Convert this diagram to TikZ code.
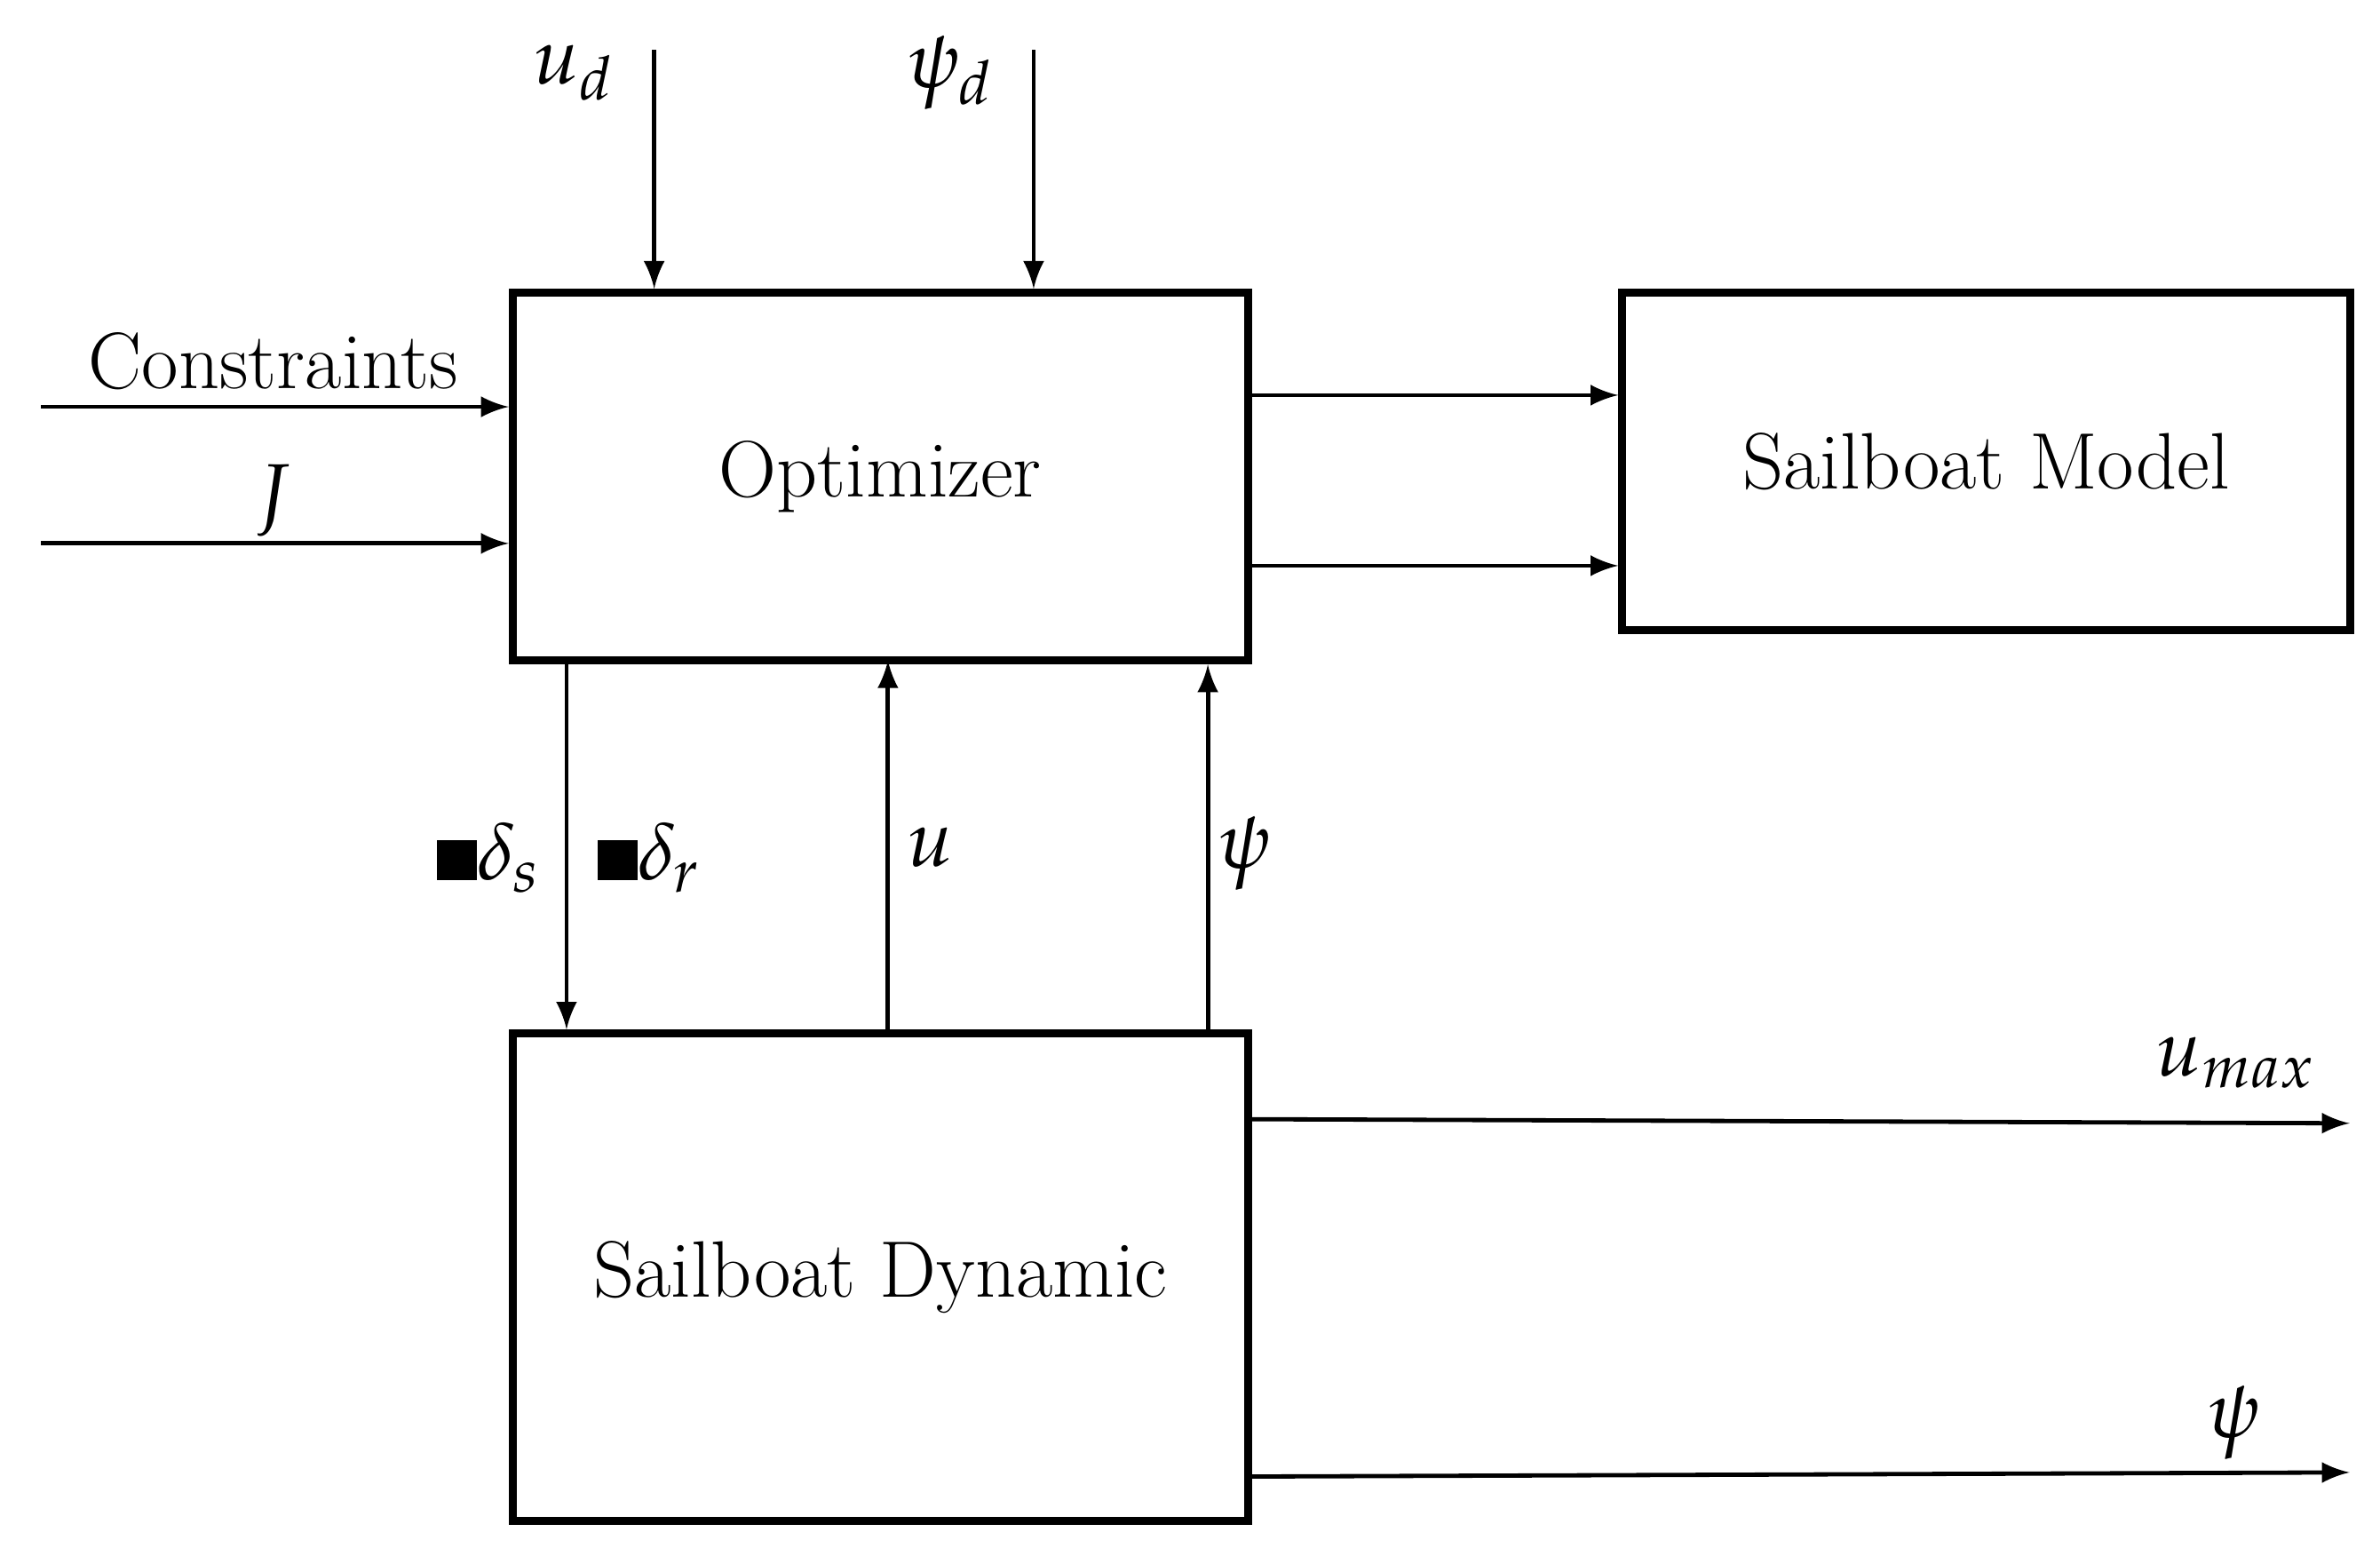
\documentclass[tikz,border=0pt]{standalone}
\usepackage{mathpazo}
\usetikzlibrary{positioning}
\begin{document}
\begin{tikzpicture}[x=0.01cm,y=-0.01cm,
    blk/.style={draw, line width=1.5pt, minimum width=4.84cm, inner sep=0pt},
    sig/.style={->, >=latex, line width=0.8pt},
    lbl/.style={font=\fontsize{15}{18}\selectfont}]
  \useasboundingbox (0,0) rectangle (1568,1025);

  \node[blk, minimum height=2.42cm, lbl] (Opt) at (580,314) {Optimizer};
  \node[blk, minimum width=4.79cm, minimum height=2.22cm, lbl] (Mod) at (1308.5,304) {Sailboat Model};
  \node[blk, minimum height=3.21cm, lbl] (Dyn) at (580,841.5) {Sailboat Dynamic};

  \coordinate (ud) at (431,33);
  \coordinate (pd) at (681,33);
  \coordinate (Cin) at (27,268);
  \coordinate (Jin) at (27,358);
  \coordinate (Uout) at (1548,740);
  \coordinate (Pout) at (1548,970);

  \draw[sig] (ud) -- (ud |- Opt.north);
  \draw[sig] (pd) -- (pd |- Opt.north);
  \draw[sig] (Cin) -- (Cin -| Opt.west);
  \draw[sig] (Jin) -- (Jin -| Opt.west);
  \draw[sig] ([yshift=-0.7cm]Opt.north east) -- ([yshift=-0.7cm]Opt.north east -| Mod.west);
  \draw[sig] ([yshift=0.65cm]Opt.south east) -- ([yshift=0.65cm]Opt.south east -| Mod.west);
  \draw[sig] ([xshift=0.38cm]Opt.south west) -- ([xshift=0.38cm]Dyn.north west);
  \draw[sig] (585,681) -- (585,435);
  \draw[sig] ([xshift=-0.29cm]Dyn.north east) -- ([xshift=-0.29cm]Opt.south east);
  \draw[sig] ([yshift=-0.59cm]Dyn.north east) -- (Uout);
  \draw[sig] ([yshift=0.32cm]Dyn.south east) -- (Pout);

  \node[lbl] (lud) at (378,48) {$u_d$};
  \node[lbl] (lpd) at (626,48) {$\psi_d$};
  \node[lbl] (lC) at (180,238) {Constraints};
  \node[lbl] (lJ) at (180,330) {$J$};
  \node[lbl] (lds) at (322,565) {$\mathit{\Delta}\delta_s$};
  \node[lbl] (ldr) at (428,565) {$\mathit{\Delta}\delta_r$};
  \node[lbl] (lu) at (613,558) {$u$};
  \node[lbl] (lp) at (820,562) {$\psi$};
  \node[lbl] (lum) at (1473,700) {$u_{max}$};
  \node[lbl] (lpo) at (1472,937) {$\psi$};
\end{tikzpicture}
\end{document}
